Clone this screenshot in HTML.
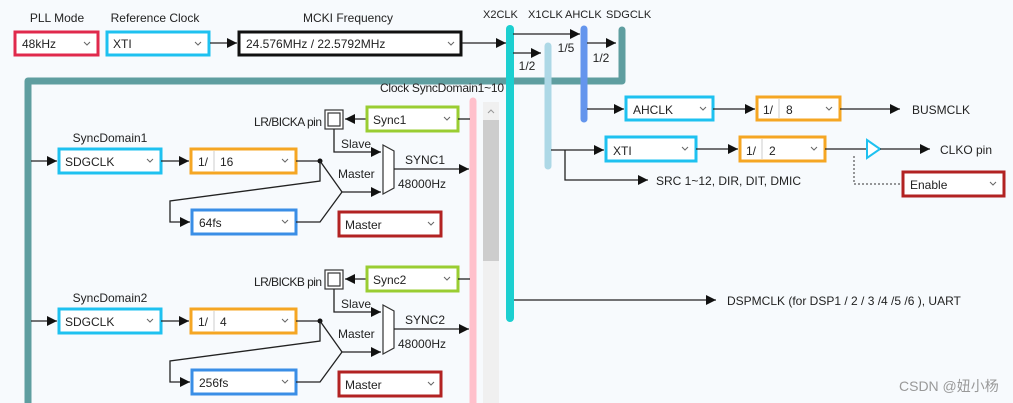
<!DOCTYPE html>
<html><head><meta charset="utf-8"><style>
html,body{margin:0;padding:0;background:#f7fafd;}
svg{display:block;font-family:"Liberation Sans","Noto Sans CJK SC",sans-serif;font-size:12px;fill:#222;}
.c{fill:#fff;stroke-width:3;}
.ln{stroke:#222;stroke-width:1.3;fill:none;}
.ch{stroke:#666;stroke-width:1;fill:none;}
.s{font-size:11px;}
</style></head><body>
<svg width="1013" height="403" viewBox="0 0 1013 403" xmlns="http://www.w3.org/2000/svg">
<defs><marker id="a" viewBox="0 0 10 10" refX="10" refY="5" markerWidth="10" markerHeight="10" markerUnits="userSpaceOnUse" orient="auto"><path d="M0,0L10,5L0,10z" fill="#111"/></marker></defs>
<rect width="1013" height="403" fill="#f7fafd"/>

<!-- top labels -->
<text x="57" y="22" text-anchor="middle">PLL Mode</text>
<text x="155" y="22" text-anchor="middle">Reference Clock</text>
<text x="348" y="22" text-anchor="middle">MCKI Frequency</text>
<text class="s" x="483" y="18">X2CLK</text>
<text class="s" x="528" y="18">X1CLK</text>
<text class="s" x="565" y="18">AHCLK</text>
<text class="s" x="606" y="18">SDGCLK</text>

<rect class="c" x="15" y="32" width="83" height="23" stroke="#e0294c"/>
<text x="22" y="48">48kHz</text><path class="ch" d="M84,42l3,3l3,-3"/>
<rect class="c" x="107" y="32" width="102" height="23" stroke="#1ec1f0"/>
<text x="113" y="48">XTI</text><path class="ch" d="M195,42l3,3l3,-3"/>
<rect class="c" x="239" y="32" width="222" height="23" stroke="#111"/>
<text x="246" y="48">24.576MHz / 22.5792MHz</text><path class="ch" d="M448,42l3,3l3,-3"/>
<line class="ln" x1="210" y1="43" x2="237" y2="43" marker-end="url(#a)"/>
<line class="ln" x1="462" y1="43" x2="506" y2="43" marker-end="url(#a)"/>

<!-- big frame -->
<path d="M28,403V81H622V30" stroke="#5f9ea0" stroke-width="7" fill="none" stroke-linejoin="round" stroke-linecap="round"/>
<!-- bars -->
<line x1="510" y1="29" x2="510" y2="318" stroke="#1ccfd0" stroke-width="8" stroke-linecap="round"/>
<line x1="548" y1="46" x2="548" y2="166" stroke="#add8e6" stroke-width="7" stroke-linecap="round"/>
<line x1="584" y1="29" x2="584" y2="119" stroke="#6495ed" stroke-width="7" stroke-linecap="round"/>

<line class="ln" x1="513" y1="34" x2="580" y2="34" marker-end="url(#a)"/>
<text x="566" y="52" text-anchor="middle">1/5</text>
<line class="ln" x1="513" y1="53" x2="541" y2="53" marker-end="url(#a)"/>
<text x="527" y="70" text-anchor="middle">1/2</text>
<line class="ln" x1="587" y1="43" x2="616" y2="43" marker-end="url(#a)"/>
<text x="601" y="62" text-anchor="middle">1/2</text>

<!-- AHCLK row -->
<line class="ln" x1="587" y1="109" x2="624" y2="109" marker-end="url(#a)"/>
<rect class="c" x="626" y="97" width="87" height="23" stroke="#1ec1f0"/>
<text x="633" y="114">AHCLK</text><path class="ch" d="M700,107l3,3l3,-3"/>
<line class="ln" x1="713" y1="109" x2="755" y2="109" marker-end="url(#a)"/>
<rect class="c" x="757" y="97" width="83" height="23" stroke="#f5a623"/>
<line x1="779" y1="99" x2="779" y2="118" stroke="#ccc"/>
<text x="763" y="114">1/</text><text x="786" y="114">8</text><path class="ch" d="M826,107l3,3l3,-3"/>
<line class="ln" x1="840" y1="109" x2="900" y2="109" marker-end="url(#a)"/>
<text x="912" y="114">BUSMCLK</text>

<!-- XTI row -->
<path class="ln" d="M551,150H604"/><path d="M594,145l10,5l-10,5z" fill="#111"/>
<rect class="c" x="606" y="137" width="90" height="24" stroke="#1ec1f0"/>
<text x="613" y="155">XTI</text><path class="ch" d="M682,147l3,3l3,-3"/>
<line class="ln" x1="696" y1="149" x2="738" y2="149" marker-end="url(#a)"/>
<rect class="c" x="740" y="137" width="85" height="24" stroke="#f5a623"/>
<line x1="762" y1="139" x2="762" y2="159" stroke="#ccc"/>
<text x="746" y="155">1/</text><text x="769" y="155">2</text><path class="ch" d="M811,147l3,3l3,-3"/>
<line class="ln" x1="825" y1="149" x2="866" y2="149"/>
<path d="M867,140L880,149L867,158z" fill="#fff" stroke="#1ec1f0" stroke-width="2"/>
<line class="ln" x1="880" y1="149" x2="930" y2="149" marker-end="url(#a)"/>
<text x="940" y="154">CLKO pin</text>
<path d="M854,156V184H902" stroke="#333" stroke-width="1" stroke-dasharray="2,2" fill="none"/>
<rect class="c" x="903" y="172" width="101" height="24" stroke="#b22222"/>
<text x="910" y="189">Enable</text><path class="ch" d="M990,182l3,3l3,-3"/>
<path class="ln" d="M565,150V180H648" marker-end="url(#a)"/>
<text x="656" y="185">SRC 1~12, DIR, DIT, DMIC</text>

<line class="ln" x1="514" y1="300" x2="716" y2="300" marker-end="url(#a)"/>
<text x="727" y="305">DSPMCLK (for DSP1 / 2 / 3 /4 /5 /6 ), UART</text>
<text x="899" y="391" style="fill:#999;font-size:14px">CSDN @妞小杨</text>

<!-- sync domain area -->
<text x="380" y="92" textLength="124">Clock SyncDomain1~10</text>
<line x1="473" y1="101" x2="473" y2="403" stroke="#ffc0cb" stroke-width="7" stroke-linecap="round"/>
<rect x="483" y="102" width="16" height="301" fill="#f0f0f0"/>
<rect x="483" y="120" width="16" height="141" fill="#cdcdcd"/>
<path d="M488,113l3,-3l3,3" stroke="#999" fill="none"/>

<!-- Domain 1 -->
<g>
<text x="110" y="142" text-anchor="middle">SyncDomain1</text>
<line class="ln" x1="31" y1="161" x2="57" y2="161" marker-end="url(#a)"/>
<rect class="c" x="59" y="149" width="102" height="24" stroke="#1ec1f0"/>
<text x="65" y="166">SDGCLK</text><path class="ch" d="M147,159l3,3l3,-3"/>
<line class="ln" x1="161" y1="161" x2="189" y2="161" marker-end="url(#a)"/>
<rect class="c" x="191" y="149" width="105" height="24" stroke="#f5a623"/>
<line x1="214" y1="151" x2="214" y2="171" stroke="#ccc"/>
<text x="198" y="166">1/</text><text x="220" y="166">16</text><path class="ch" d="M282,159l3,3l3,-3"/>
<path class="ln" d="M296,161H320V181L170,201V222H190" marker-end="url(#a)"/>
<circle cx="320" cy="161" r="2.5" fill="#111"/>
<path class="ln" d="M320,161L342,192"/>
<rect class="c" x="192" y="210" width="104" height="24" stroke="#3a8ee6"/>
<text x="199" y="227">64fs</text><path class="ch" d="M282,220l3,3l3,-3"/>
<path class="ln" d="M296,222H320L342,192H381" marker-end="url(#a)"/>
<text x="338" y="178">Master</text>
<text x="322" y="126" text-anchor="end" textLength="68">LR/BICKA pin</text>
<rect x="325" y="110" width="18" height="19" fill="#fff" stroke="#333" stroke-width="1.2"/>
<rect x="328" y="113" width="12" height="13" fill="#fff" stroke="#333" stroke-width="1.2"/>
<path class="ln" d="M334,129V152H381" marker-end="url(#a)"/>
<text x="341" y="148">Slave</text>
<line class="ln" x1="366" y1="119" x2="345" y2="119" marker-end="url(#a)"/>
<rect class="c" x="367" y="107" width="91" height="24" stroke="#9acd32"/>
<text x="373" y="124">Sync1</text><path class="ch" d="M444,117l3,3l3,-3"/>
<line class="ln" x1="458" y1="119" x2="470" y2="119"/>
<path d="M383,145L394,151V188L383,194z" fill="#fff" stroke="#333" stroke-width="1.2"/>
<line class="ln" x1="394" y1="169" x2="469" y2="169" marker-end="url(#a)"/>
<text x="405" y="164">SYNC1</text>
<text x="398" y="188">48000Hz</text>
<rect class="c" x="339" y="212" width="102" height="24" stroke="#b22222"/>
<text x="345" y="229">Master</text><path class="ch" d="M428,222l3,3l3,-3"/>
</g>

<!-- Domain 2 -->
<g transform="translate(0,160)">
<text x="110" y="142" text-anchor="middle">SyncDomain2</text>
<line class="ln" x1="31" y1="161" x2="57" y2="161" marker-end="url(#a)"/>
<rect class="c" x="59" y="149" width="102" height="24" stroke="#1ec1f0"/>
<text x="65" y="166">SDGCLK</text><path class="ch" d="M147,159l3,3l3,-3"/>
<line class="ln" x1="161" y1="161" x2="189" y2="161" marker-end="url(#a)"/>
<rect class="c" x="191" y="149" width="105" height="24" stroke="#f5a623"/>
<line x1="214" y1="151" x2="214" y2="171" stroke="#ccc"/>
<text x="198" y="166">1/</text><text x="220" y="166">4</text><path class="ch" d="M282,159l3,3l3,-3"/>
<path class="ln" d="M296,161H320V181L170,201V222H190" marker-end="url(#a)"/>
<circle cx="320" cy="161" r="2.5" fill="#111"/>
<path class="ln" d="M320,161L342,192"/>
<rect class="c" x="192" y="210" width="104" height="24" stroke="#3a8ee6"/>
<text x="199" y="227">256fs</text><path class="ch" d="M282,220l3,3l3,-3"/>
<path class="ln" d="M296,222H320L342,192H381" marker-end="url(#a)"/>
<text x="338" y="178">Master</text>
<text x="322" y="126" text-anchor="end" textLength="68">LR/BICKB pin</text>
<rect x="325" y="110" width="18" height="19" fill="#fff" stroke="#333" stroke-width="1.2"/>
<rect x="328" y="113" width="12" height="13" fill="#fff" stroke="#333" stroke-width="1.2"/>
<path class="ln" d="M334,129V152H381" marker-end="url(#a)"/>
<text x="341" y="148">Slave</text>
<line class="ln" x1="366" y1="119" x2="345" y2="119" marker-end="url(#a)"/>
<rect class="c" x="367" y="107" width="91" height="24" stroke="#9acd32"/>
<text x="373" y="124">Sync2</text><path class="ch" d="M444,117l3,3l3,-3"/>
<line class="ln" x1="458" y1="119" x2="470" y2="119"/>
<path d="M383,145L394,151V188L383,194z" fill="#fff" stroke="#333" stroke-width="1.2"/>
<line class="ln" x1="394" y1="169" x2="469" y2="169" marker-end="url(#a)"/>
<text x="405" y="164">SYNC2</text>
<text x="398" y="188">48000Hz</text>
<rect class="c" x="339" y="212" width="102" height="24" stroke="#b22222"/>
<text x="345" y="229">Master</text><path class="ch" d="M428,222l3,3l3,-3"/>
</g>
</svg>
</body></html>
